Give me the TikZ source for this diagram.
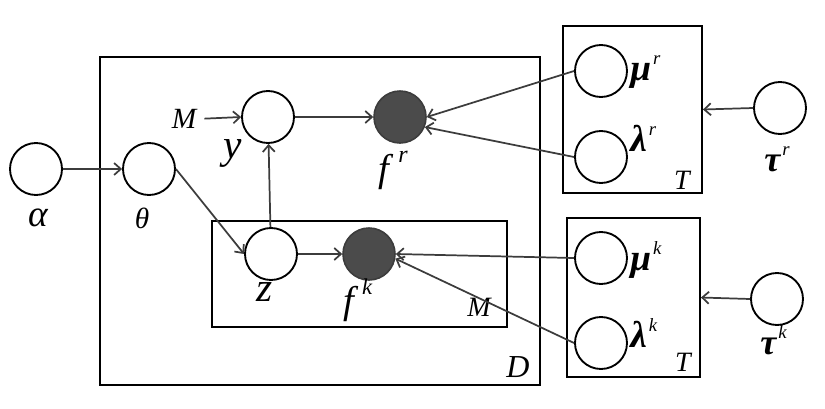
\documentclass[tikz,border=0pt]{standalone}
\usepackage{fontspec}
\setmainfont{Liberation Serif}
\usetikzlibrary{arrows.meta}
\definecolor{arrowc}{RGB}{60,60,60}
\definecolor{obsfill}{RGB}{75,75,75}
\newcommand\raisedsup[4][1.5pt]{\kern#1\raisebox{#2}{\fontsize{#3}{#3}\selectfont\mdseries\itshape #4}}
\tikzset{
  var/.style={circle, draw=black, line width=1.4pt, fill=white, minimum size=39pt, inner sep=0pt},
  obs/.style={circle, draw=arrowc, line width=1.2pt, fill=obsfill, minimum size=39pt, inner sep=0pt},
  plate/.style={draw=black, line width=1.4pt, rectangle, inner sep=0pt},
  lab/.style={inner sep=0pt},
  conn/.style={draw=arrowc, line width=1.3pt, -{Straight Barb[length=5pt,width=9pt,line width=1.3pt]}},
  fsize/.style={font=\fontsize{#1}{#1}\selectfont\itshape},
  gsize/.style={font=\fontsize{#1}{#1}\selectfont\bfseries\itshape},
}
\begin{document}
\begin{tikzpicture}[x=0.75pt,y=-0.75pt]
\useasboundingbox (0,0) rectangle (825,408);
% plates
\node[plate, minimum width=330pt, minimum height=246pt] (D) at (320,221) {};
\node[plate, minimum width=221.25pt, minimum height=79.5pt] (Mbox) at (359.5,274) {};
\node[plate, minimum width=104.25pt, minimum height=125.25pt] (Tr) at (632.5,109.5) {};
\node[plate, minimum width=99.75pt, minimum height=119.25pt] (Tk) at (633.5,297.5) {};
% variables
\node[var] (alpha) at (36,169) {};
\node[var] (theta) at (149,169) {};
\node[var] (y) at (268,117) {};
\node[obs] (fr) at (400,117) {};
\node[var] (z) at (271,254) {};
\node[obs] (fk) at (369,254) {};
\node[var] (mur) at (601,71) {};
\node[var] (lamr) at (601,157) {};
\node[var] (taur) at (780,108) {};
\node[var] (muk) at (601,258) {};
\node[var] (lamk) at (601,343) {};
\node[var] (tauk) at (777,299) {};
% labels
\node[lab, fsize=28] (lalpha) at (38,218) {α};
\node[lab, fsize=22] (ltheta) at (142,218) {θ};
\node[lab, fsize=22] (lM) at (184,119) {M};
\node[lab, fsize=31] (ly) at (233,153) {y};
\node[lab, fsize=29, anchor=base west] (lfr) at (378,181) {f\raisedsup[7pt]{14pt}{18}{r}};
\node[lab, fsize=31] (lz) at (265,292) {z};
\node[lab, fsize=29, anchor=base west] (lfk) at (343,313) {f\raisedsup[6pt]{14pt}{17}{k}};
\node[lab, fsize=21] (lMin) at (479,307) {M};
\node[lab, fsize=24] (lD) at (518,367) {D};
\node[lab, gsize=28, anchor=base west] (lmur) at (630,80) {μ\raisedsup{12pt}{14}{r}};
\node[lab, gsize=28, anchor=base west] (llamr) at (630,151) {λ\raisedsup{12pt}{14}{r}};
\node[lab, fsize=21] (lTr) at (682,180) {T};
\node[lab, gsize=27, anchor=base west] (ltaur) at (764,171) {τ\raisedsup{12pt}{14}{r}};
\node[lab, gsize=28, anchor=base west] (lmuk) at (630,270) {μ\raisedsup{12pt}{14}{k}};
\node[lab, gsize=28, anchor=base west] (llamk) at (630,347) {λ\raisedsup{12pt}{14}{k}};
\node[lab, fsize=21] (lTk) at (683,362) {T};
\node[lab, gsize=27, anchor=base west] (ltauk) at (760,354) {τ\raisedsup{12pt}{14}{k}};
% connectors
\draw[conn] (alpha) -- (theta);
\draw[conn] (theta.east) -- (z.west);
\draw[conn, shorten <=6pt] (lM.east) -- (y.west);
\draw[conn] (z) -- (y);
\draw[conn] (y) -- (fr);
\draw[conn] (z) -- (fk);
\draw[conn] (mur.west) -- (fr.east);
\draw[conn] (lamr.west) -- (fr.-22);
\draw[conn] (muk.west) -- (fk.east);
\draw[conn] (lamk.west) -- (fk.-10);
\draw[conn] (taur.west) -- (Tr.east);
\draw[conn] (tauk.west) -- (Tk.east);
\end{tikzpicture}
\end{document}
